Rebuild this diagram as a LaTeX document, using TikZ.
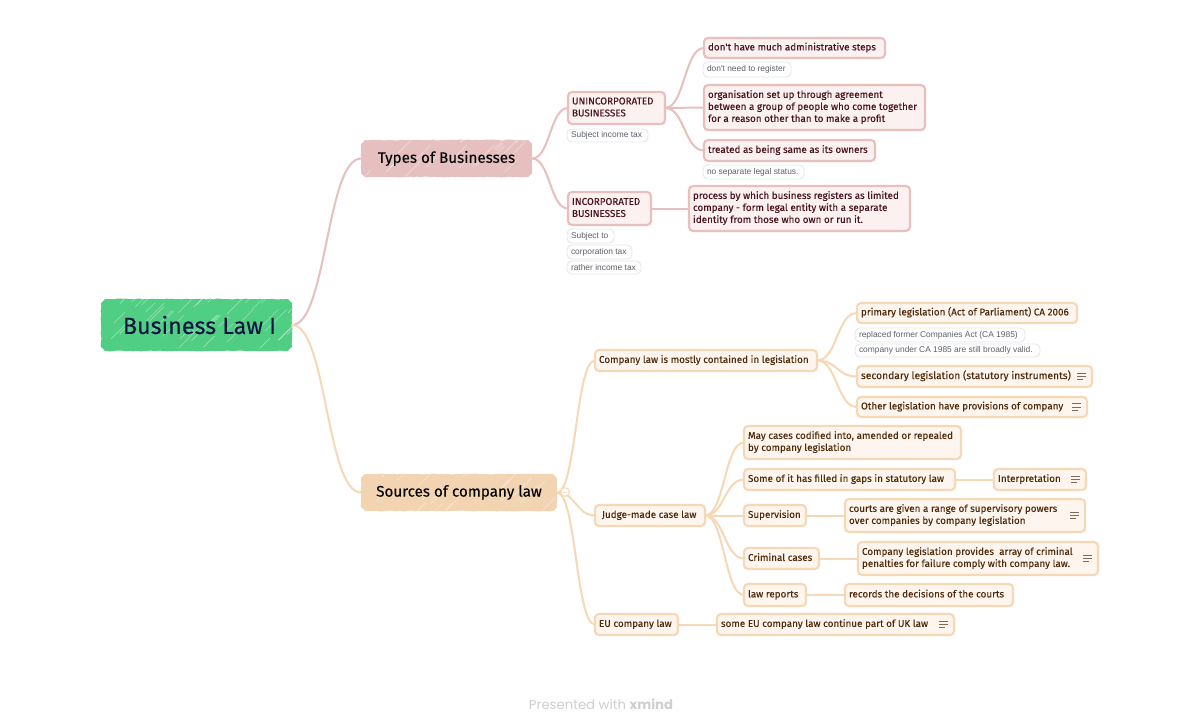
\documentclass[tikz,border=0pt]{standalone}
\usepackage{fontspec}
\setmainfont{Fira Sans}
\newfontfamily\subfont[FakeBold=0.08]{Fira Sans}
\newfontfamily\labelfont{Liberation Sans}
\newfontfamily\brandfont{Poppins}
\usetikzlibrary{calc,decorations.pathmorphing}
\definecolor{rootfill}{HTML}{50CE83}
\definecolor{roottext}{HTML}{0A1440}
\definecolor{pinkmain}{HTML}{E6C0BF}
\definecolor{pinkline}{HTML}{E8BFBD}
\definecolor{pinklight}{HTML}{FAF1F0}
\definecolor{pinktext}{HTML}{4A141C}
\definecolor{orgmain}{HTML}{F2D3B2}
\definecolor{orgline}{HTML}{F6D8B6}
\definecolor{orglight}{HTML}{FEF6EE}
\definecolor{orgtext}{HTML}{4F2A0C}
\definecolor{labeltext}{HTML}{5C6068}
\definecolor{labelline}{HTML}{E6E7EA}
\definecolor{brandgrey}{HTML}{CFCFCF}
\tikzset{
  x=0.75pt,y=-0.75pt,
  boxbase/.style={rectangle,anchor=center,inner sep=0pt,outer sep=0pt},
  rough/.style={decorate,decoration={random steps,segment length=2.2pt,amplitude=.3pt}},
  hatchline/.style={white,opacity=.42,line width=.45pt},
  roottxt/.style={boxbase,text=roottext,align=center,font={\subfont\fontsize{17.5}{20}\selectfont}},
  maintxt/.style={boxbase,text=black,align=center,font={\subfont\fontsize{11.4}{14}\selectfont}},
  subpink/.style={boxbase,draw=pinkline,line width=1.6pt,fill=pinklight,rounded corners=3pt,text=pinktext,
    font={\subfont\fontsize{7.4}{9}\selectfont}},
  suborg/.style={boxbase,draw=orgline,line width=1.6pt,fill=orglight,rounded corners=3pt,text=orgtext,
    font={\subfont\fontsize{7.4}{9}\selectfont}},
  tagbox/.style={boxbase,draw=labelline,line width=.7pt,fill=white,rounded corners=3.5pt,text=labeltext,
    font={\labelfont\fontsize{6.3}{8}\selectfont}},
  pinkconn/.style={draw=pinkline,line width=1.5pt,line cap=round},
  orgconn/.style={draw=orgline,line width=1.5pt,line cap=round},
  noteicon/.style={draw=orgtext!70!white,line width=.65pt},
  collapsemark/.style={circle,draw=orgline,line width=.8pt,fill=white,minimum size=6.5pt,inner sep=0pt}
}
% hatched main-topic plate: name,x1,y1,x2,y2,fill colour,text style,hatch count,max length (text in \plateText)
\newcommand{\plate}[9]{%
  \fill[#6,rough] ({#2+4},#3) -- ({#4-4},#3) -- (#4,{#3+4}) -- (#4,{#5-4}) -- ({#4-4},#5) -- ({#2+4},#5) -- (#2,{#5-4}) -- (#2,{#3+4}) -- cycle;
  \begin{scope}
    \clip[rounded corners=3pt] (#2,#3) rectangle (#4,#5);
    \foreach \i in {1,...,#8}{%
      \pgfmathsetmacro\ha{#2+rnd*(#4-#2)}\pgfmathsetmacro\hb{#3+rnd*(#5-#3)}\pgfmathsetmacro\hl{5+rnd*#9}%
      \draw[hatchline] (\ha,\hb) -- ++(\hl,-\hl);
    }
  \end{scope}
  \pgfmathsetmacro\bw{#4-#2}\pgfmathsetmacro\bh{#5-#3}%
  \pgfmathsetmacro\cx{(#2+#4)/2}\pgfmathsetmacro\cy{(#3+#5)/2}%
  \pgfmathsetmacro\bwp{\bw*0.75}\pgfmathsetmacro\bhp{\bh*0.75}%
  \node[#7,minimum width=\bwp pt,minimum height=\bhp pt] (#1) at (\cx,\cy) {\raisebox{-.5pt}{\plateText}};}
% name, x1, y1, x2, y2, style, text
\newcommand{\bx}[7]{%
  \pgfmathsetmacro\bw{(#4-#2-2)*0.75}\pgfmathsetmacro\bh{(#5-#3-2)*0.75}\pgfmathsetmacro\bt{(#4-#2-10)*0.75}%
  \pgfmathsetmacro\cx{(#2+#4)/2}\pgfmathsetmacro\cy{(#3+#5)/2}%
  \node[#6,minimum width=\bw pt,minimum height=\bh pt] (#1) at (\cx,\cy) {\makebox[\bt pt][l]{\begin{tabular}{@{}l@{}}#7\end{tabular}}};}
\newcommand{\tg}[6]{%
  \pgfmathsetmacro\bw{(#4-#2)*0.75}\pgfmathsetmacro\bh{(#5-#3)*0.75}\pgfmathsetmacro\bt{(#4-#2-8)*0.75}%
  \pgfmathsetmacro\cx{(#2+#4)/2}\pgfmathsetmacro\cy{(#3+#5)/2}%
  \node[tagbox,minimum width=\bw pt,minimum height=\bh pt] (#1) at (\cx,\cy) {\raisebox{-.6pt}{\makebox[\bt pt][l]{#6}}};}
% connector from east of #2 to west of #3 with style #1
\newcommand{\cn}[3]{%
  \coordinate (mid#2#3) at ($(#2.east)!.5!(#3.west)$);
  \draw[#1] (#2.east) .. controls (mid#2#3 |- #2.east) and (mid#2#3 |- #3.west) .. (#3.west);}
\newcommand{\nt}[1]{%
  \draw[noteicon] ([xshift=-11.2pt,yshift=2.5pt]#1.east) -- ++(9,0);
  \draw[noteicon] ([xshift=-11.2pt]#1.east) -- ++(9,0);
  \draw[noteicon] ([xshift=-11.2pt,yshift=-2.5pt]#1.east) -- ++(5.5,0);}
\begin{document}
\begin{tikzpicture}
\pgfmathsetseed{42}
\useasboundingbox[fill=white] (0,0) rectangle (1200,721);
\def\plateText{\hspace*{4.5pt}Business Law I}
\plate{root}{101}{299}{292}{351}{rootfill}{roottxt}{40}{22}
\def\plateText{Types of Businesses}
\plate{types}{361}{140}{532}{177}{pinkmain}{maintxt}{22}{14}
\def\plateText{Sources of company law}
\plate{sources}{361}{474}{557}{511}{orgmain}{maintxt}{22}{14}
\bx{uninc}{567}{91}{666}{125}{subpink}{UNINCORPORATED\\BUSINESSES}
\bx{inc}{567}{191}{652}{226}{subpink}{INCORPORATED\\BUSINESSES}
\bx{dont}{703}{37}{886}{59}{subpink}{don't have much administrative steps}
\bx{organ}{703}{84}{926}{131}{subpink}{organisation set up through agreement\\between a group of people who come together\\for a reason other than to make a profit}
\bx{treated}{703}{139}{876}{162}{subpink}{treated as being same as its owners}
\bx{process}{688}{185}{911}{232}{subpink}{process by which business registers as limited\\company - form legal entity with a separate\\identity from those who own or run it.}
\tg{tagreg}{703}{62}{791}{77}{don't need to register}
\tg{tagsub}{567}{129}{648}{142}{Subject income tax}
\tg{tagsep}{703}{165}{804}{179}{no separate legal status.}
\tg{tagto}{567}{229}{614}{243}{Subject to}
\tg{tagcorp}{567}{245}{632}{259}{corporation tax}
\tg{tagrath}{567}{261}{641}{274}{rather income tax}
\bx{comp}{594}{349}{818}{372}{suborg}{Company law is mostly contained in legislation}
\bx{prim}{856}{302}{1078}{324}{suborg}{primary legislation (Act of Parliament) CA 2006}
\tg{tagrep}{855}{328}{1025}{342}{replaced former Companies Act (CA 1985)}
\tg{tagund}{855}{344}{1040}{357}{company under CA 1985 are still broadly valid.}
\bx{sec}{856}{365}{1093}{388}{suborg}{\fontsize{7.7}{9}\selectfont secondary legislation (statutory instruments)}
\bx{other}{856}{396}{1088}{418}{suborg}{Other legislation have provisions of company}
\bx{judge}{594}{504}{706}{527}{suborg}{\hspace*{2.25pt}Judge-made case law}
\bx{may}{743}{425}{962}{460}{suborg}{May cases codified into, amended or repealed\\by company legislation}
\bx{some}{743}{468}{956}{491}{suborg}{Some of it has filled in gaps in statutory law}
\bx{interp}{993}{468}{1087}{491}{suborg}{Interpretation}
\bx{superv}{743}{504}{807}{527}{suborg}{Supervision}
\bx{courts}{844}{498}{1086}{533}{suborg}{courts are given a range of supervisory powers\\over companies by company legislation}
\bx{crim}{743}{547}{820}{570}{suborg}{Criminal cases}
\bx{penal}{857}{541}{1099}{576}{suborg}{Company legislation provides\ \ array of criminal\\penalties for failure comply with company law.}
\bx{reports}{743}{583}{807}{607}{suborg}{law reports}
\bx{records}{844}{583}{1014}{607}{suborg}{records the decisions of the courts}
\bx{eu}{594}{613}{679}{636}{suborg}{EU company law}
\bx{someeu}{716}{613}{955}{636}{suborg}{some EU company law continue part of UK law}
\cn{pinkconn}{root}{types}
\cn{orgconn}{root}{sources}
\cn{pinkconn}{types}{uninc}
\cn{pinkconn}{types}{inc}
\cn{pinkconn}{uninc}{dont}
\cn{pinkconn}{uninc}{organ}
\cn{pinkconn}{uninc}{treated}
\cn{pinkconn}{inc}{process}
\cn{orgconn}{sources}{comp}
\cn{orgconn}{sources}{judge}
\cn{orgconn}{sources}{eu}
\cn{orgconn}{comp}{prim}
\cn{orgconn}{comp}{sec}
\cn{orgconn}{comp}{other}
\cn{orgconn}{judge}{may}
\cn{orgconn}{judge}{some}
\cn{orgconn}{judge}{superv}
\cn{orgconn}{judge}{crim}
\cn{orgconn}{judge}{reports}
\cn{orgconn}{some}{interp}
\cn{orgconn}{superv}{courts}
\cn{orgconn}{crim}{penal}
\cn{orgconn}{reports}{records}
\cn{orgconn}{eu}{someeu}
\nt{sec}\nt{other}\nt{interp}\nt{courts}\nt{penal}\nt{someeu}
\node[collapsemark] (collapse) at (565,492) {};
\draw[orgline,line width=.6pt] ([xshift=-1.8pt]collapse.center) -- ([xshift=1.8pt]collapse.center);
\node[text=brandgrey,font={\brandfont\fontsize{9.9}{12}\selectfont},anchor=center,inner sep=0pt] (brand) at (601,704) {Presented with \textbf{xmind}};
\end{tikzpicture}
\end{document}
